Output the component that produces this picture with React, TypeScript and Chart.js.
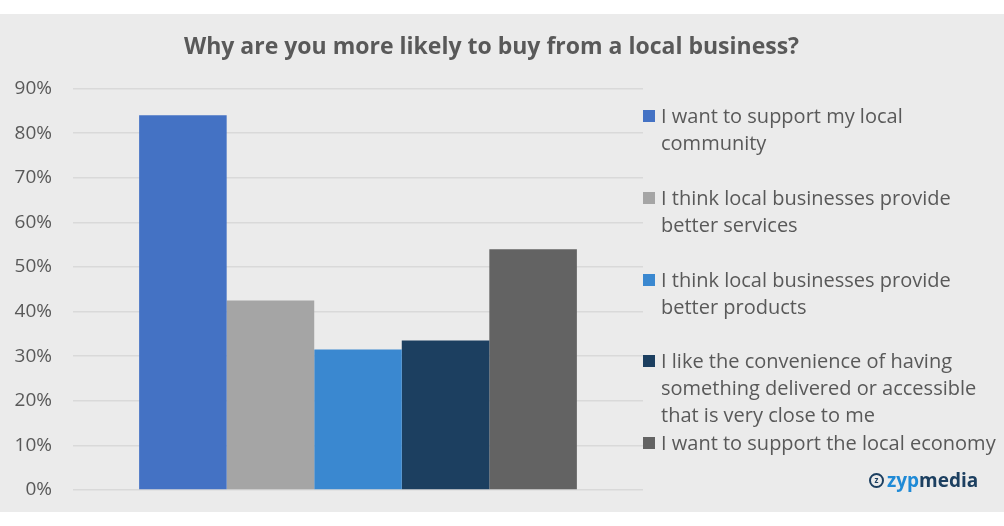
import { useEffect, useRef } from 'react';
import { Chart, registerables } from 'chart.js';

Chart.register(...registerables);

const TITLE = 'Why are you more likely to buy from a local business?';
const CATEGORIES = [''];
const SERIES_NAMES = [
  'I want to support my local community',
  'I think local businesses provide better services',
  'I think local businesses provide better products',
  'I like the convenience of having something delivered or accessible that is very close to me',
  'I want to support the local economy',
];
// legend text, wrapped the same way as the original
const LEGEND_LINES = [
  ['I want to support my local', 'community'],
  ['I think local businesses provide', 'better services'],
  ['I think local businesses provide', 'better products'],
  ['I like the convenience of having', 'something delivered or accessible', 'that is very close to me'],
  ['I want to support the local economy'],
];
const VALUES = [84, 42.5, 31.5, 33.5, 54];
const COLORS = ['#4472C4', '#A5A5A5', '#3A88D0', '#1C3F60', '#636363'];
const Y_MAX = 90;
const Y_STEP = 10;

const FONT = '"Open Sans", "Noto Sans", sans-serif';
const TEXT_COLOR = '#595959';

export default function App() {
  const chartRef = useRef<HTMLCanvasElement>(null);
  const chartInstance = useRef<Chart | null>(null);

  useEffect(() => {
    if (!chartRef.current) return;
    if (chartInstance.current) chartInstance.current.destroy();
    const ctx = chartRef.current.getContext('2d');
    if (!ctx) return;

    chartInstance.current = new Chart(ctx, {
      type: 'bar',
      data: {
        labels: CATEGORIES,
        datasets: SERIES_NAMES.map((name, i) => ({
          label: name,
          data: [VALUES[i]],
          backgroundColor: COLORS[i],
          borderWidth: 0,
          categoryPercentage: 0.768,
          barPercentage: 1,
          yAxisID: 'y',
        })),
      },
      options: {
        responsive: true,
        maintainAspectRatio: false,
        animation: false,
        layout: { padding: { left: 0, right: 21, top: 0, bottom: 22 } },
        plugins: {
          legend: { display: false },
          tooltip: { enabled: false },
          title: {
            display: true,
            text: TITLE,
            color: TEXT_COLOR,
            font: { family: FONT, size: 23, weight: 'bold', lineHeight: 1.2 },
            padding: { top: 20, bottom: 27 },
          },
        },
        scales: {
          x: { display: false },
          y: {
            position: 'left',
            min: 0,
            max: Y_MAX,
            border: { display: false },
            // invisible tick marks give the gap between labels and plot
            grid: { color: '#D9D9D9', lineWidth: 1.5, drawTicks: true, tickLength: 21, tickColor: 'rgba(0,0,0,0)' },
            ticks: {
              stepSize: Y_STEP,
              padding: 0,
              color: TEXT_COLOR,
              font: { family: FONT, size: 19 },
              callback: (v) => `${v}%`,
            },
            afterFit: (scale) => { scale.width = 73; },
          },
          // empty axis that keeps room for the legend on the right
          legendSpace: {
            type: 'linear',
            position: 'right',
            display: true,
            border: { display: false },
            grid: { display: false, drawTicks: false },
            ticks: { display: false },
            afterFit: (scale) => { scale.width = 340; },
          },
        },
      },
    });

    return () => {
      if (chartInstance.current) {
        chartInstance.current.destroy();
        chartInstance.current = null;
      }
    };
  }, []);

  const itemTops = [102, 184, 266, 347, 429];

  return (
    <div style={{ position: 'absolute', left: 0, top: 0, width: 1004, height: 526, background: '#fff', overflow: 'hidden' }}>
      <div style={{ position: 'absolute', left: 0, top: 14, width: 1004, height: 498, background: '#EBEBEB' }}>
        <canvas ref={chartRef} style={{ width: '100%', height: '100%' }}></canvas>
      </div>
      {LEGEND_LINES.map((lines, i) => (
        <div key={i} style={{ position: 'absolute', left: 643, top: itemTops[i], fontFamily: FONT, fontSize: 20, lineHeight: '27px', color: TEXT_COLOR, whiteSpace: 'nowrap' }}>
          <span style={{ position: 'absolute', left: 0, top: 8, width: 12, height: 12, background: COLORS[i] }}></span>
          <div style={{ marginLeft: 18 }}>
            {lines.map((l, j) => <div key={j}>{l}</div>)}
          </div>
        </div>
      ))}
      <div style={{ position: 'absolute', left: 869, top: 468, fontFamily: FONT, fontWeight: 'bold', fontSize: 19, lineHeight: '24px', whiteSpace: 'nowrap', display: 'flex', alignItems: 'center' }}>
        <span style={{ display: 'inline-flex', alignItems: 'center', justifyContent: 'center', width: 11, height: 11, border: '2px solid #1C3F60', borderRadius: '50%', fontSize: 8, lineHeight: '8px', color: '#1C3F60', marginRight: 3 }}>z</span>
        <span style={{ color: '#1F8AD6' }}>zyp</span>
        <span style={{ color: '#1C3F60' }}>media</span>
      </div>
    </div>
  );
}
